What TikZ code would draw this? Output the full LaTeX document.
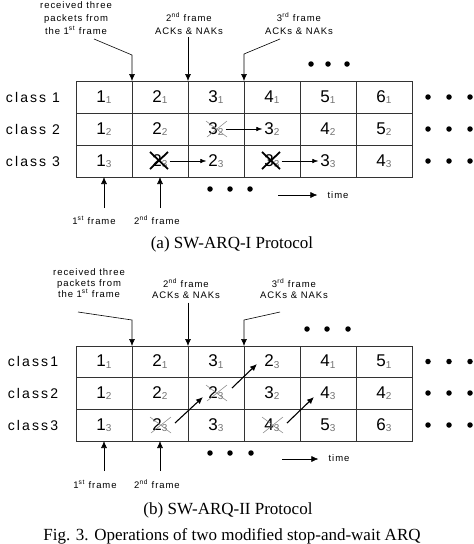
\documentclass[tikz,border=0pt]{standalone}
\usepackage{fontspec}
\setmainfont{Liberation Sans}
\newfontfamily\capfont{Liberation Serif}
\newfontfamily\spacedfont[LetterSpace=15]{Liberation Sans}
\newfontfamily\notefont[LetterSpace=10]{Liberation Sans}
\usetikzlibrary{arrows.meta}

% packet number with its class as a grey subscript
\newcommand{\pk}[2]{#1{\color{black!55}\fontsize{10}{10}\selectfont\raisebox{-1.5pt}{#2}}}

\tikzset{
  grid line/.style={black!80, line width=0.8pt},
  cell/.style={font=\fontsize{17}{17}\selectfont, inner sep=1pt},
  cls/.style={font=\spacedfont\fontsize{14}{14}\selectfont},
  note/.style={font=\notefont\fontsize{9.5}{13}\selectfont, align=center, inner sep=0pt},
  note tight/.style={note, font=\notefont\fontsize{9.5}{11}\selectfont},
  subcap/.style={font=\capfont\fontsize{17}{17}\selectfont},
  bigdot/.style={circle, fill, inner sep=0pt, minimum size=5.5pt},
  ptr/.style={-{Latex[length=7pt,width=6pt]}, line width=0.6pt},
  resend/.style={-{Latex[length=6pt,width=4.5pt]}, line width=0.5pt, shorten <=1pt, shorten >=1pt},
  hop/.style={-{Latex[length=7pt,width=6pt]}, line width=1.1pt},
  xthin/.style={black!50, line width=0.5pt},
  xthick/.style={black, line width=1.8pt},
}

\begin{document}
\begin{tikzpicture}[x=1pt,y=-1pt]
    \useasboundingbox (0,0) rectangle (474,544);

    % (a) SW-ARQ-I
    \draw[grid line] (76,81) rectangle (412,177);
    \foreach \x in {132,188,244,300,356} \draw[grid line] (\x,81) -- (\x,177);
    \foreach \y in {113,145} \draw[grid line] (76,\y) -- (412,\y);

    \node[cls] (a-c1) at (33,97) {class 1};
    \node[cls] (a-c2) at (33,129) {class 2};
    \node[cls] (a-c3) at (33,161) {class 3};

    \foreach \d/\s [count=\c] in {1/1,2/1,3/1,4/1,5/1,6/1}
        \node[cell] (a1\c) at (48+56*\c,97) {\pk{\d}{\s}};
    \foreach \d/\s [count=\c] in {1/2,2/2,3/2,3/2,4/2,5/2}
        \node[cell] (a2\c) at (48+56*\c,129) {\pk{\d}{\s}};
    \foreach \d/\s [count=\c] in {1/3,2/3,2/3,3/3,3/3,4/3}
        \node[cell] (a3\c) at (48+56*\c,161) {\pk{\d}{\s}};

    % lost packets
    \draw[xthin] ([shift={(-10,-8)}]a23.center) -- ([shift={(11,8)}]a23.center)
        ([shift={(11,-8)}]a23.center) -- ([shift={(-9,8)}]a23.center);
    \draw[xthick] ([shift={(-10,-9)}]a32.center) -- ([shift={(8,8)}]a32.center)
        ([shift={(8,-9)}]a32.center) -- ([shift={(-10,8)}]a32.center);
    \draw[xthick] ([shift={(-10,-9)}]a34.center) -- ([shift={(8,8)}]a34.center)
        ([shift={(8,-9)}]a34.center) -- ([shift={(-10,8)}]a34.center);
    \draw[resend] (a23) -- (a24);
    \draw[resend] (a32) -- (a33);
    \draw[resend] (a34) -- (a35);

    \foreach \y [count=\r] in {97,129,161}
        \foreach \x [count=\k] in {428,449,470}
            \node[bigdot] (a-d\r\k) at (\x,\y) {};
    \foreach \x [count=\k] in {311,328,347}
        \node[bigdot] (a-up\k) at (\x,64) {};
    \foreach \x [count=\k] in {210,230,250}
        \node[bigdot] (a-lo\k) at (\x,189) {};

    \node[note] (a-recv) at (76,18) {received three\\packets from\\the 1\textsuperscript{st} frame};
    \node[note] (a-ack2) at (189,24) {2\textsuperscript{nd} frame\\ACKs \& NAKs};
    \node[note] (a-ack3) at (299,24) {3\textsuperscript{rd} frame\\ACKs \& NAKs};
    \coordinate (a-t1) at (132,81);
    \coordinate (a-t2) at (188,81);
    \coordinate (a-t3) at (244,81);
    \coordinate (a-k1) at (94,39);
    \coordinate (a-k3) at (280,39);
    \draw[ptr] (a-k1) -- ([yshift=26pt]a-t1) -- (a-t1);
    \draw[ptr] ([yshift=-2pt]a-ack2.south -| a-t2) -- (a-t2);
    \draw[ptr] (a-k3) -- ([yshift=27pt]a-t3) -- (a-t3);

    \coordinate (a-b1) at (104,177);
    \coordinate (a-b2) at (160,177);
    \coordinate (a-u1) at (104,208);
    \coordinate (a-u2) at (160,208);
    \draw[ptr] (a-u1) -- (a-b1);
    \draw[ptr] (a-u2) -- (a-b2);
    \node[note] (a-f1) at (94,220) {1\textsuperscript{st} frame};
    \node[note] (a-f2) at (157,220) {2\textsuperscript{nd} frame};

    \coordinate (a-tm) at (278,195);
    \node[note] (a-time) at (338,195) {time};
    \draw[ptr] (a-tm) -- ([xshift=-10pt]a-time.west);

    \node[subcap] (a-cap) at (232,244) {(a) SW-ARQ-I Protocol};

    % (b) SW-ARQ-II
    \draw[grid line] (76,346) rectangle (412,441);
    \foreach \x in {132,188,244,300,356} \draw[grid line] (\x,346) -- (\x,441);
    \foreach \y in {377,409} \draw[grid line] (76,\y) -- (412,\y);

    \node[cls] (b-c1) at (33,361.5) {class1};
    \node[cls] (b-c2) at (33,393) {class2};
    \node[cls] (b-c3) at (33,425) {class3};

    \foreach \d/\s [count=\c] in {1/1,2/1,3/1,2/3,4/1,5/1}
        \node[cell] (b1\c) at (48+56*\c,361.5) {\pk{\d}{\s}};
    \foreach \d/\s [count=\c] in {1/2,2/2,2/3,3/2,4/3,4/2}
        \node[cell] (b2\c) at (48+56*\c,393) {\pk{\d}{\s}};
    \foreach \d/\s [count=\c] in {1/3,2/3,3/3,4/3,5/3,6/3}
        \node[cell] (b3\c) at (48+56*\c,425) {\pk{\d}{\s}};

    % lost packets, sent again one class up
    \foreach \n in {b23,b32,b34}
        \draw[xthin] ([shift={(-10,-8)}]\n.center) -- ([shift={(11,8)}]\n.center)
            ([shift={(11,-8)}]\n.center) -- ([shift={(-9,8)}]\n.center);
    \draw[hop] ([shift={(15,-2)}]b32.center) -- ([shift={(-13,4)}]b23.center);
    \draw[hop] ([shift={(16,-5)}]b23.center) -- ([shift={(-15,2.5)}]b14.center);
    \draw[hop] ([shift={(15,-2)}]b34.center) -- ([shift={(-14,4)}]b25.center);

    \foreach \y [count=\r] in {361.5,393,425}
        \foreach \x [count=\k] in {428,449,470}
            \node[bigdot] (b-d\r\k) at (\x,\y) {};
    \foreach \x [count=\k] in {307,327,348}
        \node[bigdot] (b-up\k) at (\x,329) {};
    \foreach \x [count=\k] in {210,230,251}
        \node[bigdot] (b-lo\k) at (\x,453) {};

    \node[note tight] (b-recv) at (89,283) {received three\\packets from\\the 1\textsuperscript{st} frame};
    \node[note tight] (b-ack2) at (186,288.5) {2\textsuperscript{nd} frame\\ACKs \& NAKs};
    \node[note tight] (b-ack3) at (294,288.5) {3\textsuperscript{rd} frame\\ACKs \& NAKs};
    \coordinate (b-t1) at (132,346);
    \coordinate (b-t2) at (188,346);
    \coordinate (b-t3) at (244,346);
    \coordinate (b-k1) at (78,312);
    \coordinate (b-k3) at (280,312);
    \draw[ptr] (b-k1) -- ([yshift=26pt]b-t1) -- (b-t1);
    \draw[ptr] ([yshift=-4pt]b-ack2.south -| b-t2) -- (b-t2);
    \draw[ptr] (b-k3) -- ([yshift=26pt]b-t3) -- (b-t3);

    \coordinate (b-b1) at (104,441);
    \coordinate (b-b2) at (160,441);
    \coordinate (b-u1) at (104,471);
    \coordinate (b-u2) at (160,471);
    \draw[ptr] (b-u1) -- (b-b1);
    \draw[ptr] (b-u2) -- (b-b2);
    \node[note] (b-f1) at (95,484) {1\textsuperscript{st} frame};
    \node[note] (b-f2) at (157,484) {2\textsuperscript{nd} frame};

    \coordinate (b-tm) at (282,459);
    \node[note] (b-time) at (339,458) {time};
    \draw[ptr] (b-tm) -- ([xshift=-10pt]b-time.west |- b-tm);

    \node[subcap] (b-cap) at (228,510) {(b) SW-ARQ-II Protocol};
    \node[subcap] (fig) at (232,536) {Fig. 3. Operations of two modified stop-and-wait ARQ};
\end{tikzpicture}
\end{document}
